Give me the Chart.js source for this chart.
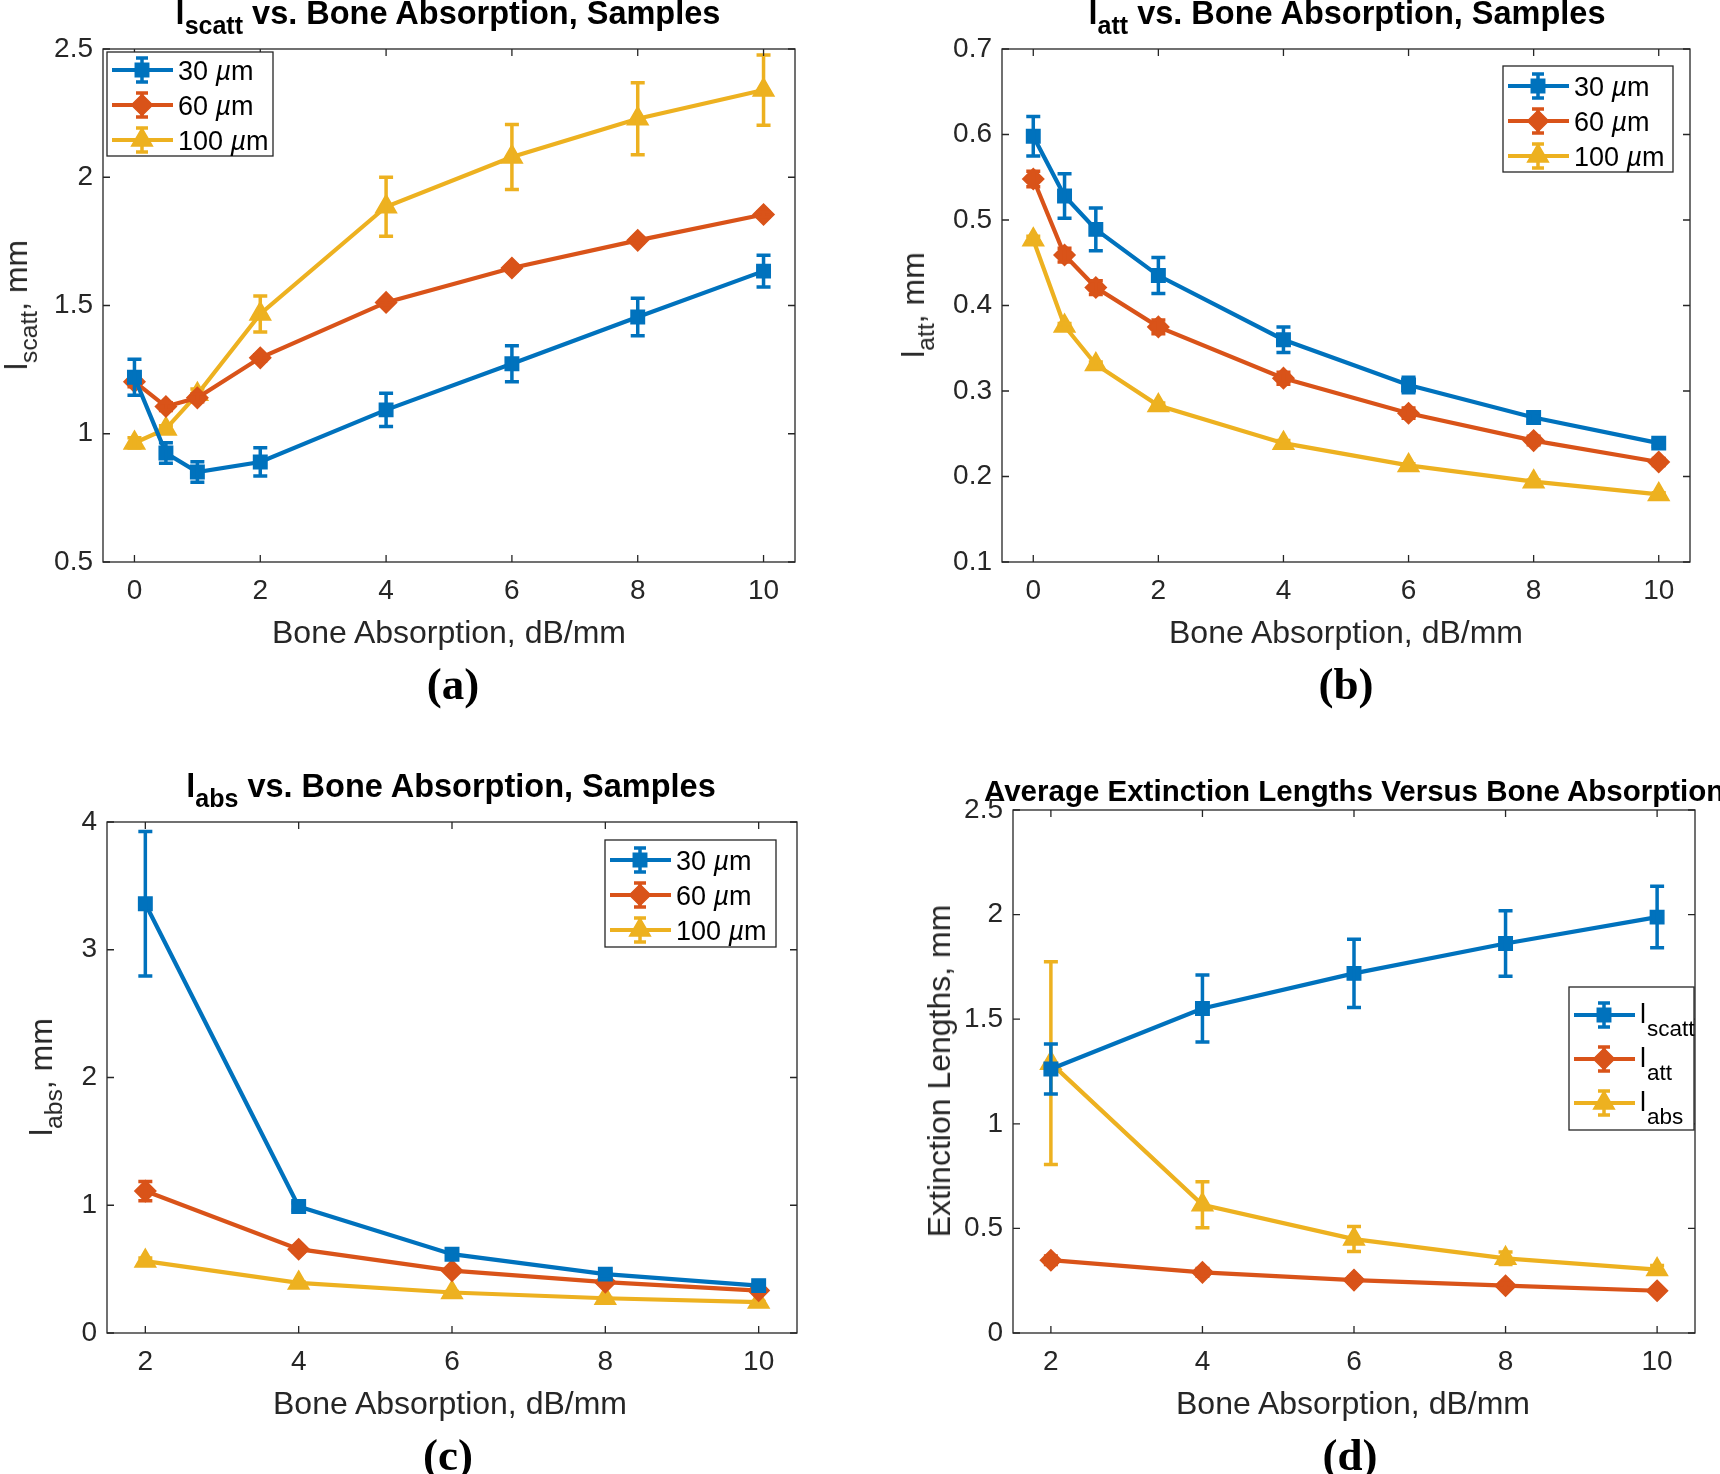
<!DOCTYPE html>
<html>
<head>
<meta charset="utf-8">
<script src="https://cdn.jsdelivr.net/npm/chart.js@4.4.0/dist/chart.umd.min.js"></script>
<style>
  html, body { margin: 0; padding: 0; background: #fff; overflow: hidden; }
  #page { position: relative; width: 1720px; height: 1474px; overflow: hidden; }
  canvas { position: absolute; }
  .txt { position: absolute; white-space: nowrap; font-family: 'Liberation Sans', Arial, sans-serif; color: #262626; line-height: 1; }
  .title { font-weight: bold; font-size: 32.5px; color: #000; transform: translateX(-50%); }
  .sub { position: relative; font-size: 0.77em; top: 0.42em; }
  .xlab { font-size: 32px; transform: translate(-50%, -50%); }
  .ylab { font-size: 32px; transform: translate(-50%, -50%) rotate(-90deg); }
  .letter { font-family: 'Liberation Serif', 'Times New Roman', serif; font-weight: bold; font-size: 45px; color: #000; transform: translate(-50%, -50%); }
</style>
</head>
<body>
<div id="page">
  <canvas id="chartA" width="860" height="620" style="left:0;top:0"></canvas>
  <canvas id="chartB" width="860" height="620" style="left:860px;top:0"></canvas>
  <canvas id="chartC" width="860" height="774" style="left:0;top:700px"></canvas>
  <canvas id="chartD" width="860" height="774" style="left:860px;top:700px"></canvas>

  <div class="txt title" style="left:448px;top:-3.5px">l<span class="sub">scatt</span> vs. Bone Absorption, Samples</div>
  <div class="txt title" style="left:1347px;top:-3.5px">l<span class="sub">att</span> vs. Bone Absorption, Samples</div>
  <div class="txt title" style="left:451px;top:769.5px">l<span class="sub">abs</span> vs. Bone Absorption, Samples</div>
  <div class="txt title" style="left:984px;top:776px;transform:none;font-size:29.5px">Average Extinction Lengths Versus Bone Absorption</div>

  <div class="txt ylab" style="left:16px;top:305px">l<span class="sub">scatt</span>, mm</div>
  <div class="txt ylab" style="left:913px;top:305px">l<span class="sub">att</span>, mm</div>
  <div class="txt ylab" style="left:41px;top:1077px">l<span class="sub">abs</span>, mm</div>
  <div class="txt ylab" style="left:939px;top:1071px">Extinction Lengths, mm</div>

  <div class="txt xlab" style="left:449px;top:632px">Bone Absorption, dB/mm</div>
  <div class="txt xlab" style="left:1346px;top:632px">Bone Absorption, dB/mm</div>
  <div class="txt xlab" style="left:450px;top:1403px">Bone Absorption, dB/mm</div>
  <div class="txt xlab" style="left:1353px;top:1403px">Bone Absorption, dB/mm</div>

  <div class="txt letter" style="left:453px;top:684px">(a)</div>
  <div class="txt letter" style="left:1346px;top:684px">(b)</div>
  <div class="txt letter" style="left:448px;top:1455px">(c)</div>
  <div class="txt letter" style="left:1350px;top:1455px">(d)</div>
</div>
<script>
// shared x values
const xSamples = [0, 0.5, 1, 2, 4, 6, 8, 10];
const xAverage = [2, 4, 6, 8, 10];

// tick labels
const xTicksAB = [0, 2, 4, 6, 8, 10];
const xTicksCD = [2, 4, 6, 8, 10];
const yTicksA = [0.5, 1, 1.5, 2, 2.5];
const yTicksB = [0.1, 0.2, 0.3, 0.4, 0.5, 0.6, 0.7];
const yTicksC = [0, 1, 2, 3, 4];
const yTicksD = [0, 0.5, 1, 1.5, 2, 2.5];

const sampleLabels = ['30 µm', '60 µm', '100 µm'];
const averageLabels = ['l_scatt', 'l_att', 'l_abs'];

// (a) l_scatt
const scatt30 = [1.22, 0.925, 0.851, 0.89, 1.093, 1.273, 1.455, 1.634];
const scatt30Err = [0.07, 0.04, 0.04, 0.055, 0.065, 0.07, 0.073, 0.062];
const scatt60 = [1.203, 1.106, 1.14, 1.296, 1.512, 1.646, 1.754, 1.855];
const scatt60Err = [0.02, 0.015, 0.015, 0.012, 0.01, 0.01, 0.01, 0.01];
const scatt100 = [0.964, 1.019, 1.154, 1.467, 1.885, 2.079, 2.228, 2.34];
const scatt100Err = [0.02, 0.012, 0.02, 0.07, 0.115, 0.127, 0.14, 0.137];

// (b) l_att
const att30 = [0.598, 0.528, 0.489, 0.435, 0.36, 0.307, 0.269, 0.239];
const att30Err = [0.023, 0.026, 0.025, 0.021, 0.015, 0.009, 0.006, 0.004];
const att60 = [0.548, 0.459, 0.421, 0.375, 0.315, 0.274, 0.242, 0.217];
const att60Err = [0.009, 0.008, 0.008, 0.008, 0.007, 0.006, 0.005, 0.004];
const att100 = [0.477, 0.376, 0.331, 0.283, 0.239, 0.213, 0.194, 0.179];
const att100Err = [0.004, 0.003, 0.003, 0.003, 0.003, 0.002, 0.002, 0.002];

// (c) l_abs
const abs30 = [3.36, 0.99, 0.617, 0.461, 0.371];
const abs30Err = [0.565, 0.03, 0.02, 0.015, 0.012];
const abs60 = [1.111, 0.656, 0.488, 0.398, 0.332];
const abs60Err = [0.075, 0.02, 0.012, 0.01, 0.01];
const abs100 = [0.563, 0.392, 0.317, 0.272, 0.242];
const abs100Err = [0.025, 0.01, 0.008, 0.006, 0.005];

// (d) averages
const avgScatt = [1.262, 1.551, 1.719, 1.862, 1.988];
const avgScattErr = [0.12, 0.16, 0.163, 0.157, 0.147];
const avgAtt = [0.348, 0.29, 0.253, 0.226, 0.202];
const avgAttErr = [0.02, 0.018, 0.015, 0.012, 0.01];
const avgAbs = [1.29, 0.613, 0.449, 0.357, 0.303];
const avgAbsErr = [0.485, 0.11, 0.06, 0.03, 0.02];

const COLORS = ['#0072BD', '#D95319', '#EDB120'];
const MARKERS = ['rect', 'rectRot', 'triangle'];
const RADII = [9.5, 10.5, 12];
const FONT = "'Liberation Sans', Arial, sans-serif";
const AXIS_COLOR = '#262626';

function drawMarker(ctx, style, x, y, r, color) {
    ctx.save();
    ctx.fillStyle = color;
    ctx.strokeStyle = color;
    ctx.lineWidth = 1.5;
    ctx.beginPath();
    if (style === 'rect') {
        const s = r * Math.SQRT1_2;
        ctx.rect(x - s, y - s, 2 * s, 2 * s);
    } else if (style === 'rectRot') {
        ctx.moveTo(x, y - r); ctx.lineTo(x + r, y); ctx.lineTo(x, y + r); ctx.lineTo(x - r, y);
        ctx.closePath();
    } else {
        for (let k = 0; k < 3; k++) {
            const a = k * 2 * Math.PI / 3;
            const px = x + Math.sin(a) * r, py = y - Math.cos(a) * r;
            k === 0 ? ctx.moveTo(px, py) : ctx.lineTo(px, py);
        }
        ctx.closePath();
    }
    ctx.fill();
    ctx.stroke();
    ctx.restore();
}

function drawErrorBar(ctx, x, yTop, yBot, cap, color) {
    ctx.save();
    ctx.strokeStyle = color;
    ctx.lineWidth = 3.5;
    ctx.beginPath();
    ctx.moveTo(x, yTop); ctx.lineTo(x, yBot);
    ctx.moveTo(x - cap, yTop); ctx.lineTo(x + cap, yTop);
    ctx.moveTo(x - cap, yBot); ctx.lineTo(x + cap, yBot);
    ctx.stroke();
    ctx.restore();
}

const errorBars = {
    id: 'errorBars',
    afterDatasetDraw(chart, args) {
        const ds = chart.data.datasets[args.index];
        if (!ds.errors) return;
        const yScale = chart.scales.y;
        args.meta.data.forEach((el, i) => {
            const v = ds.data[i].y, e = ds.errors[i];
            drawErrorBar(chart.ctx, el.x, yScale.getPixelForValue(v + e), yScale.getPixelForValue(v - e), 7, ds.borderColor);
        });
    }
};

// box + inward ticks on all four sides
const axesBox = {
    id: 'axesBox',
    afterDatasetsDraw(chart) {
        const { ctx, chartArea: ca, scales } = chart;
        const len = 7;
        ctx.save();
        ctx.strokeStyle = AXIS_COLOR;
        ctx.lineWidth = 1.3;
        ctx.strokeRect(ca.left, ca.top, ca.right - ca.left, ca.bottom - ca.top);
        ctx.beginPath();
        scales.x.ticks.forEach(t => {
            const px = scales.x.getPixelForValue(t.value);
            ctx.moveTo(px, ca.bottom); ctx.lineTo(px, ca.bottom - len);
            ctx.moveTo(px, ca.top); ctx.lineTo(px, ca.top + len);
        });
        scales.y.ticks.forEach(t => {
            const py = scales.y.getPixelForValue(t.value);
            ctx.moveTo(ca.left, py); ctx.lineTo(ca.left + len, py);
            ctx.moveTo(ca.right, py); ctx.lineTo(ca.right - len, py);
        });
        ctx.stroke();
        ctx.restore();
    }
};

function drawLabel(ctx, label, x, baseline) {
    if (label.indexOf('_') >= 0) {
        const [main, sub] = label.split('_');
        ctx.font = '27px ' + FONT;
        ctx.fillText(main, x, baseline);
        const w = ctx.measureText(main).width;
        ctx.font = '22.5px ' + FONT;
        ctx.fillText(sub, x + w + 1, baseline + 13);
        return;
    }
    const parts = label.split('µ');
    ctx.font = '27px ' + FONT;
    ctx.fillText(parts[0], x, baseline);
    let cx = x + ctx.measureText(parts[0]).width;
    if (parts.length > 1) {
        ctx.font = 'italic 27px ' + FONT;
        ctx.fillText('µ', cx, baseline);
        cx += ctx.measureText('µ').width;
        ctx.font = '27px ' + FONT;
        ctx.fillText(parts[1], cx, baseline);
    }
}

const matlabLegend = {
    id: 'matlabLegend',
    afterDraw(chart, args, opts) {
        if (!opts || !opts.w) return;
        const { ctx, chartArea: ca } = chart;
        const x0 = opts.right != null ? ca.right - opts.right - opts.w : ca.left + opts.left;
        const y0 = ca.top + opts.top;
        ctx.save();
        ctx.fillStyle = '#fff';
        ctx.fillRect(x0, y0, opts.w, opts.h);
        ctx.strokeStyle = AXIS_COLOR;
        ctx.lineWidth = 1.3;
        ctx.strokeRect(x0, y0, opts.w, opts.h);
        chart.data.datasets.forEach((ds, i) => {
            const cy = y0 + opts.first + i * opts.row;
            const mx = x0 + 35;
            ctx.strokeStyle = ds.borderColor;
            ctx.lineWidth = 4.2;
            ctx.beginPath();
            ctx.moveTo(x0 + 5, cy); ctx.lineTo(x0 + 66, cy);
            ctx.stroke();
            drawErrorBar(ctx, mx, cy - 12, cy + 12, 6, ds.borderColor);
            drawMarker(ctx, ds.pointStyle, mx, cy, ds.pointRadius, ds.borderColor);
            ctx.fillStyle = '#000';
            ctx.textBaseline = 'alphabetic';
            drawLabel(ctx, ds.label, x0 + 71, cy + opts.textDy);
        });
        ctx.restore();
    }
};

function makeDatasets(xs, series, errs, labels) {
    return series.map((ys, k) => ({
        label: labels[k],
        data: xs.map((x, i) => ({ x: x, y: ys[i] })),
        errors: errs[k],
        borderColor: COLORS[k],
        backgroundColor: COLORS[k],
        pointBackgroundColor: COLORS[k],
        pointBorderColor: COLORS[k],
        borderWidth: 4.2,
        pointStyle: MARKERS[k],
        pointRadius: RADII[k],
        pointBorderWidth: 1.5,
        tension: 0,
        clip: false
    }));
}

function makeChart(id, cfg) {
    const tickFont = { family: FONT, size: 28 };
    return new Chart(document.getElementById(id), {
        type: 'line',
        data: { datasets: cfg.datasets },
        options: {
            responsive: false,
            animation: false,
            devicePixelRatio: 1,
            events: [],
            layout: { padding: cfg.padding },
            plugins: {
                legend: { display: false },
                tooltip: { enabled: false },
                matlabLegend: cfg.legend
            },
            scales: {
                x: {
                    type: 'linear',
                    min: cfg.xMin, max: cfg.xMax,
                    afterBuildTicks: s => { s.ticks = cfg.xTicks.map(v => ({ value: v })); },
                    afterFit: s => { s.height = cfg.xAxisH; },
                    grid: { display: false, drawTicks: false },
                    border: { display: false },
                    ticks: { font: tickFont, color: AXIS_COLOR, padding: 12, maxRotation: 0, autoSkip: false, callback: v => String(v) }
                },
                y: {
                    type: 'linear',
                    min: cfg.yTicks[0], max: cfg.yTicks[cfg.yTicks.length - 1],
                    afterBuildTicks: s => { s.ticks = cfg.yTicks.map(v => ({ value: v })); },
                    afterFit: s => { s.width = cfg.yAxisW; },
                    grid: { display: false, drawTicks: false },
                    border: { display: false },
                    ticks: { font: tickFont, color: AXIS_COLOR, padding: 10, autoSkip: false, callback: v => String(v) }
                }
            }
        },
        plugins: [errorBars, axesBox, matlabLegend]
    });
}

makeChart('chartA', {
    datasets: makeDatasets(xSamples, [scatt30, scatt60, scatt100], [scatt30Err, scatt60Err, scatt100Err], sampleLabels),
    padding: { left: 0, top: 49, right: 65, bottom: 0 },
    yAxisW: 103, xAxisH: 58,
    xMin: -0.5, xMax: 10.5, xTicks: xTicksAB, yTicks: yTicksA,
    legend: { left: 4, top: 3, w: 166, h: 104, first: 18, row: 35, textDy: 10 }
});

makeChart('chartB', {
    datasets: makeDatasets(xSamples, [att30, att60, att100], [att30Err, att60Err, att100Err], sampleLabels),
    padding: { left: 0, top: 49, right: 30, bottom: 0 },
    yAxisW: 142, xAxisH: 58,
    xMin: -0.5, xMax: 10.5, xTicks: xTicksAB, yTicks: yTicksB,
    legend: { right: 17, top: 17, w: 170, h: 106, first: 20, row: 35, textDy: 10 }
});

makeChart('chartC', {
    datasets: makeDatasets(xAverage, [abs30, abs60, abs100], [abs30Err, abs60Err, abs100Err], sampleLabels),
    padding: { left: 0, top: 122, right: 63, bottom: 83 },
    yAxisW: 107, xAxisH: 58,
    xMin: 1.5, xMax: 10.5, xTicks: xTicksCD, yTicks: yTicksC,
    legend: { right: 21, top: 18, w: 171, h: 107, first: 20, row: 35, textDy: 10 }
});

makeChart('chartD', {
    datasets: makeDatasets(xAverage, [avgScatt, avgAtt, avgAbs], [avgScattErr, avgAttErr, avgAbsErr], averageLabels),
    padding: { left: 0, top: 110, right: 25, bottom: 83 },
    yAxisW: 153, xAxisH: 58,
    xMin: 1.5, xMax: 10.5, xTicks: xTicksCD, yTicks: yTicksD,
    legend: { right: 1, top: 177, w: 125, h: 143, first: 28, row: 44, textDy: 8 }
});
</script>
</body>
</html>
